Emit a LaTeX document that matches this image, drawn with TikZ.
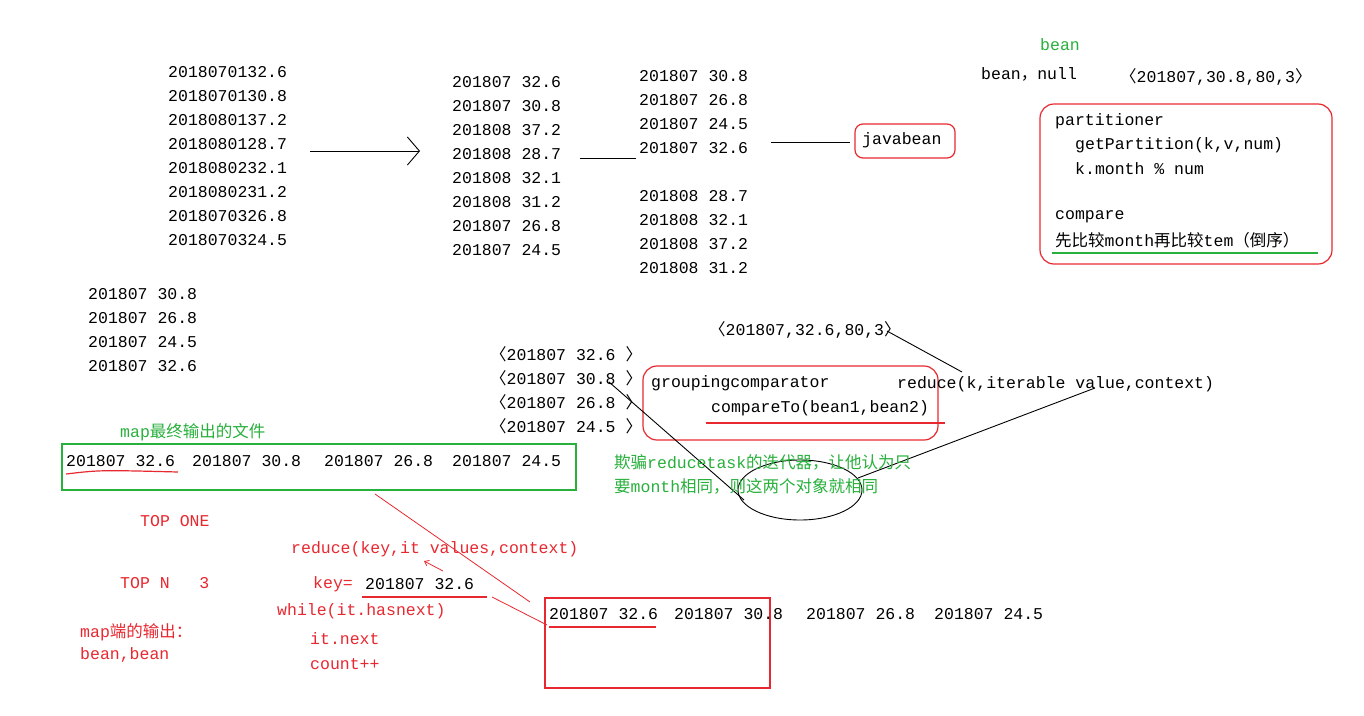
\documentclass[tikz,border=0pt]{standalone}
\usepackage{fontspec}
\setmonofont{Liberation Mono}
\newfontfamily\cjk{Noto Sans CJK SC}
\usetikzlibrary{arrows.meta,shapes.geometric}
\definecolor{myred}{RGB}{232,40,48}
\definecolor{mygreen}{RGB}{40,176,60}
\begin{document}
\begin{tikzpicture}[x=1pt,y=-1pt,
  t/.style={anchor=west,inner sep=0pt,font=\ttfamily\fontsize{16.5}{18}\selectfont},
  rt/.style={t,text=myred},
  gt/.style={t,text=mygreen},
  rbox/.style={color=myred,line width=1.2pt,rounded corners=14pt},
  rl/.style={color=myred,line width=1.2pt},
  gl/.style={color=mygreen,line width=1.2pt},
  bl/.style={color=black,line width=0.9pt}]
\useasboundingbox (0,0) rectangle (1364,715);
\fill[white] (0,0) rectangle (1364,715);
% left column
\foreach \s [count=\i] in {2018070132.6,2018070130.8,2018080137.2,2018080128.7,2018080232.1,2018080231.2,2018070326.8,2018070324.5}
  \node[t] (a\i) at (168,48+24*\i) {\s};
\coordinate (arS) at (310,151); \coordinate (arE) at (420,151);
\draw[bl,-{Straight Barb[length=12pt,width=28pt]}] (arS) -- (arE);
\foreach \s [count=\i] in {201807 32.6,201807 30.8,201808 37.2,201808 28.7,201808 32.1,201808 31.2,201807 26.8,201807 24.5}
  \node[t] (b\i) at (452,58+24*\i) {\s};
\coordinate (l1) at (580,158); \coordinate (l2) at (636,158);
\draw[bl] (l1) -- (l2);
\foreach \s [count=\i] in {201807 30.8,201807 26.8,201807 24.5,201807 32.6}
  \node[t] (c\i) at (639,52+24*\i) {\s};
\foreach \s [count=\i] in {201808 28.7,201808 32.1,201808 37.2,201808 31.2}
  \node[t] (d\i) at (639,172+24*\i) {\s};
\node[t] (jb) at (862,140) {javabean};
\draw[rbox,rounded corners=8pt] (855,124) rectangle (955,158);
\coordinate (l3) at (771,142); \coordinate (l4) at (850,142);
\draw[bl] (l3) -- (l4);
% top right
\node[gt] (bean) at (1040,45) {bean};
\node[t] (bnull) at (981,74) {bean{\cjk ，}null};
\node[t] (tup1) at (1120,77) {{\cjk 〈}201807,30.8,80,3{\cjk 〉}};
\draw[rbox] (1040,104) rectangle (1332,264);
\node[t] (p1) at (1055,121) {partitioner};
\node[t] (p2) at (1075,145) {getPartition(k,v,num)};
\node[t] (p3) at (1075,169) {k.month \% num};
\node[t] (p4) at (1055,217) {compare};
\node[t] (p5) at (1055,240) {{\cjk 先比较}month{\cjk 再比较}tem{\cjk （倒序）}};
\draw[gl] (1052,253) -- (1318,253);
% left middle
\foreach \s [count=\i] in {201807 30.8,201807 26.8,201807 24.5,201807 32.6}
  \node[t] (e\i) at (88,270+24*\i) {\s};
\node[gt] (mapf) at (120,432) {map{\cjk 最终输出的文件}};
\draw[gl] (62,444) rectangle (576,490);
\node[t] (f1) at (66,461) {201807 32.6};
\node[t] (f2) at (192,461) {201807 30.8};
\node[t] (f3) at (324,461) {201807 26.8};
\node[t] (f4) at (452,461) {201807 24.5};
\draw[rl] (66,474) .. controls (100,470) .. (178,472);
\node[rt] (top1) at (140,521) {TOP ONE};
\node[rt] (topn) at (120,583) {TOP N \ \ 3};
\node[rt] (mapo) at (80,632) {map{\cjk 端的输出：}};
\node[rt] (bb) at (80,655) {bean,bean};
\node[rt] (red1) at (291,549) {reduce(key,it values,context)};
\node[rt] (key) at (313,584) {key=};
\node[t] (keyv) at (365,584) {201807 32.6};
\draw[rl] (362,597) -- (487,597);
\node[rt] (wh) at (277,611) {while(it.hasnext)};
\node[rt] (itn) at (310,639) {it.next};
\node[rt] (cnt) at (310,664) {count++};
\coordinate (sa1) at (443,571); \coordinate (sa2) at (424,561);
\draw[rl,line width=0.8pt,-{Straight Barb[length=4pt,width=6pt]}] (sa1) -- (sa2);
\coordinate (r1a) at (375,494); \coordinate (r1b) at (530,602);
\draw[rl,line width=0.8pt] (r1a) -- (r1b);
\coordinate (r2a) at (492,597); \coordinate (r2b) at (547,625);
\draw[rl,line width=0.8pt] (r2a) -- (r2b);
\draw[rl] (545,598) rectangle (770,688);
\node[t] (g1) at (549,614) {201807 32.6};
\node[t] (g2) at (674,614) {201807 30.8};
\node[t] (g3) at (806,614) {201807 26.8};
\node[t] (g4) at (934,614) {201807 24.5};
\draw[rl] (549,627) -- (656,627);
% middle
\node[t] (tup2) at (709,330) {{\cjk 〈}201807,32.6,80,3{\cjk 〉}};
\foreach \s [count=\i] in {32.6,30.8,26.8,24.5}
  \node[t] (h\i) at (490,330+24*\i) {{\cjk 〈}201807 \s\ {\cjk 〉}};
\draw[rbox] (643,366) rectangle (938,440);
\node[t] (gc) at (651,383) {groupingcomparator};
\node[t] (ct) at (711,408) {compareTo(bean1,bean2)};
\draw[rl] (706,423) -- (945,423);
\node[t] (rd) at (897,384) {reduce(k,iterable value,context)};
\node[bl,draw,ellipse,minimum width=124pt,minimum height=60pt,inner sep=0pt] (el) at (800,490) {};
\coordinate (m1) at (609,382); \coordinate (m2) at (744,500);
\draw[bl] (m1) -- (m2);
\coordinate (m3) at (858,478); \coordinate (m4) at (1095,388);
\draw[bl] (m3) -- (m4);
\coordinate (m5) at (887,331); \coordinate (m6) at (962,372);
\draw[bl] (m5) -- (m6);
\node[gt] (ch1) at (614,462) {{\cjk 欺骗}reducetask{\cjk 的迭代器，让他认为只}};
\node[gt] (ch2) at (614,486) {{\cjk 要}month{\cjk 相同，则这两个对象就相同}};
\end{tikzpicture}
\end{document}
